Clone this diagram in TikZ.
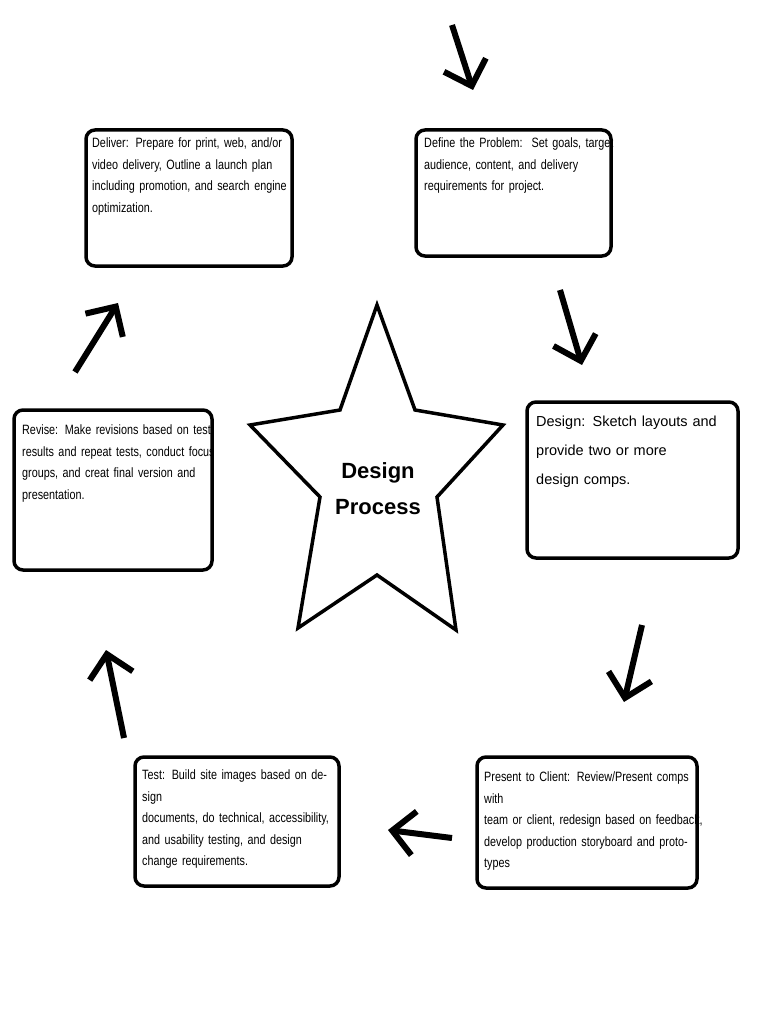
\documentclass[tikz,border=0pt]{standalone}
\usepackage{fontspec}
\setmainfont{Liberation Sans}
\newfontfamily\cond[FakeStretch=0.80]{Liberation Sans}
\usetikzlibrary{arrows.meta}
\begin{document}
\begin{tikzpicture}[x=1pt,y=-1pt,
  box/.style={draw,line width=3.5pt,rounded corners=9pt},
  txt/.style={anchor=north west,align=left,inner sep=0pt,font=\cond\fontsize{13.5}{21.5}\selectfont},
  arr/.style={line width=6pt,-{Straight Barb[length=22pt,width=44pt,line width=6pt]}}]
\useasboundingbox (0,0) rectangle (768,1024);
\draw[box] (86,130) rectangle (292,266);
\draw[box] (416,130) rectangle (611,256);
\draw[box] (527,402) rectangle (738,558);
\draw[box] (477,757) rectangle (697,888);
\draw[box] (135,757) rectangle (339,886);
\draw[box] (14,410) rectangle (212,570);
\node[txt,text width=200pt] (tdel) at (92,138) {Deliver: Prepare for print, web, and/or\\video delivery, Outline a launch plan\\including promotion, and search engine\\optimization.};
\node[txt,text width=195pt] (tdef) at (424,138) {Define the Problem:\ \ Set goals, target\\audience, content, and delivery\\requirements for project.};
\node[txt,text width=205pt,font=\fontsize{14.5}{29}\selectfont] (tdes) at (536,416) {Design: Sketch layouts and\\provide two or more\\design comps.};
\node[txt,text width=220pt] (tpre) at (484,772) {Present to Client: Review/Present comps with\\team or client, redesign based on feedback,\\develop production storyboard and prototypes};
\node[txt,text width=200pt] (ttest) at (142,770) {Test: Build site images based on design\\documents, do technical, accessibility,\\and usability testing, and design\\change requirements.};
\node[txt,text width=195pt] (trev) at (22,425) {Revise: Make revisions based on test\\results and repeat tests, conduct focus\\groups, and creat final version and\\presentation.};
\draw[line width=3.5pt,line join=miter] (377,305) -- (415,410) -- (503,425) -- (437,497) -- (456,630) -- (377,575) -- (298,628) -- (320,497) -- (250,425) -- (340,410) -- cycle;
\node[align=center,font=\bfseries\fontsize{22}{36}\selectfont] (star) at (378,489) {Design\\Process};
\coordinate (a1s) at (452,25); \coordinate (a1e) at (473,90);
\coordinate (a2s) at (560,290); \coordinate (a2e) at (582,365);
\coordinate (a3s) at (642,625); \coordinate (a3e) at (624,702);
\coordinate (a4s) at (452,838); \coordinate (a4e) at (388,830);
\coordinate (a5s) at (124,738); \coordinate (a5e) at (106,650);
\coordinate (a6s) at (75,372); \coordinate (a6e) at (118,303);
\draw[arr] (a1s) -- (a1e);
\draw[arr] (a2s) -- (a2e);
\draw[arr] (a3s) -- (a3e);
\draw[arr] (a4s) -- (a4e);
\draw[arr] (a5s) -- (a5e);
\draw[arr] (a6s) -- (a6e);
\end{tikzpicture}
\end{document}
